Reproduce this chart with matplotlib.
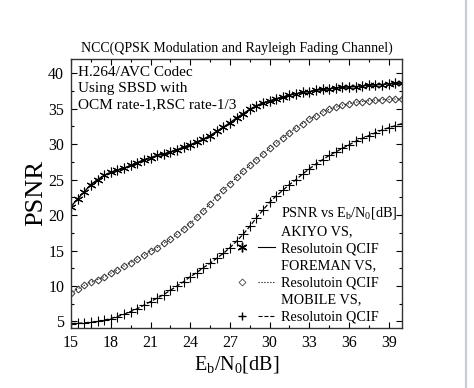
import numpy as np
import matplotlib
matplotlib.use("Agg")
import matplotlib.pyplot as plt
from matplotlib.lines import Line2D
from matplotlib.legend_handler import HandlerTuple
from matplotlib.ticker import MultipleLocator

plt.rcParams['font.family'] = ['Liberation Serif', 'DejaVu Serif']
plt.rcParams['mathtext.fontset'] = 'custom'
plt.rcParams['mathtext.rm'] = 'Liberation Serif'
plt.rcParams['mathtext.it'] = 'Liberation Serif:italic'

# Eb/N0 grid (dB)
ebn0 = [15.0, 15.5, 16.0, 16.5, 17.0, 17.5, 18.0, 18.5, 19.0, 19.5,
        20.0, 20.5, 21.0, 21.5, 22.0, 22.5, 23.0, 23.5, 24.0, 24.5,
        25.0, 25.5, 26.0, 26.5, 27.0, 27.5, 28.0, 28.5, 29.0, 29.5,
        30.0, 30.5, 31.0, 31.5, 32.0, 32.5, 33.0, 33.5, 34.0, 34.5,
        35.0, 35.5, 36.0, 36.5, 37.0, 37.5, 38.0, 38.5, 39.0, 39.5, 40.0]

psnr_akiyo = [21.2, 22.3, 23.3, 24.3, 25.0, 25.6, 26.0, 26.3, 26.6, 27.0,
              27.4, 27.8, 28.1, 28.4, 28.6, 28.9, 29.2, 29.6, 29.9, 30.3,
              30.7, 31.2, 31.8, 32.4, 33.0, 33.7, 34.3, 34.9, 35.4, 35.8,
              36.1, 36.4, 36.6, 36.9, 37.1, 37.3, 37.4, 37.6, 37.7, 37.8,
              37.9, 38.0, 38.05, 38.1, 38.2, 38.3, 38.35, 38.4, 38.5, 38.55, 38.6]

psnr_foreman = [9.0, 9.6, 10.1, 10.5, 10.9, 11.3, 11.8, 12.3, 12.8, 13.3,
                13.8, 14.3, 14.9, 15.4, 16.0, 16.6, 17.3, 18.0, 18.8, 19.7,
                20.6, 21.6, 22.6, 23.5, 24.4, 25.3, 26.2, 27.0, 27.8, 28.6,
                29.4, 30.1, 30.9, 31.6, 32.3, 32.9, 33.5, 34.0, 34.5, 34.9,
                35.2, 35.5, 35.7, 35.9, 36.0, 36.1, 36.2, 36.25, 36.3, 36.35, 36.4]

psnr_mobile = [4.7, 4.75, 4.8, 4.9, 5.0, 5.2, 5.4, 5.7, 6.0, 6.4,
               6.8, 7.3, 7.8, 8.3, 8.8, 9.4, 10.0, 10.6, 11.3, 11.9,
               12.6, 13.2, 13.9, 14.6, 15.4, 16.3, 17.3, 18.4, 19.6, 20.7,
               21.8, 22.7, 23.5, 24.3, 25.0, 25.8, 26.5, 27.2, 27.8, 28.4,
               28.9, 29.4, 29.9, 30.4, 30.8, 31.2, 31.6, 32.0, 32.3, 32.6, 32.9]

x_ticks = [15, 18, 21, 24, 27, 30, 33, 36, 39]
y_ticks = [5, 10, 15, 20, 25, 30, 35, 40]

fig = plt.figure(figsize=(4.74, 3.88), dpi=100)
ax = fig.add_axes([0.150, 0.155, 0.698, 0.693])

asterisk = (6, 2, 0)
ax.plot(ebn0, psnr_akiyo, color='black', linestyle='-', linewidth=1.0,
        marker=asterisk, markersize=7, markeredgewidth=0.8)
ax.plot(ebn0, psnr_foreman, color='black', linestyle=':', linewidth=0.8,
        marker='D', markersize=3.5, markerfacecolor='none', markeredgewidth=0.7,
        markeredgecolor='#333333')
ax.plot(ebn0, psnr_mobile, color='black', linestyle='--', linewidth=0.9,
        marker='+', markersize=7, markeredgewidth=0.8)

ax.set_xlim(15, 40)
ax.set_ylim(4.1, 42)
ax.set_xticks(x_ticks)
ax.set_yticks(y_ticks)
ax.xaxis.set_minor_locator(MultipleLocator(1.5))
ax.yaxis.set_minor_locator(MultipleLocator(2.5))
ax.tick_params(which='both', direction='in', top=True, right=True,
               labelsize=11.5, width=0.8)
ax.tick_params(which='major', length=4, pad=5)
ax.tick_params(which='minor', length=2)
for s in ax.spines.values():
    s.set_linewidth(1.0)
    s.set_color('#333333')

ax.set_title('NCC(QPSK Modulation and Rayleigh Fading Channel)', fontsize=10, pad=5)
ax.set_xlabel(r'E$_\mathrm{b}$/N$_\mathrm{0}$[dB]', fontsize=14.5, labelpad=2)
ax.set_ylabel('PSNR', fontsize=19, labelpad=1)

ax.text(0.022, 0.975, 'H.264/AVC Codec\nUsing SBSD with\nOCM rate-1,RSC rate-1/3',
        transform=ax.transAxes, ha='left', va='top', fontsize=11, linespacing=1.3)

blank = Line2D([], [], linestyle='none', marker=None)
h_akiyo = (Line2D([], [], linestyle='none', marker=asterisk, color='black', markersize=7),
           Line2D([], [], linestyle='-', color='black', linewidth=0.8))
h_foreman = (Line2D([], [], linestyle='none', marker='D', markerfacecolor='none',
                    markeredgecolor='#444444', markersize=3.5, markeredgewidth=0.6),
             Line2D([], [], linestyle=':', color='black', linewidth=0.8))
h_mobile = (Line2D([], [], linestyle='none', marker='+', color='black', markersize=6),
            Line2D([], [], linestyle='--', color='black', linewidth=0.8))

handles = [blank, blank, h_akiyo, blank, h_foreman, blank, h_mobile]
labels = [r'PSNR vs E$_\mathrm{b}$/N$_\mathrm{0}$[dB]', 'AKIYO VS,', 'Resolutoin QCIF',
          'FOREMAN VS,', 'Resolutoin QCIF', 'MOBILE VS,', 'Resolutoin QCIF']
ax.legend(handles, labels, loc='lower right', frameon=False, fontsize=10.3,
          handler_map={tuple: HandlerTuple(ndivide=None, pad=0.5)},
          handlelength=3.0, handletextpad=0.4, labelspacing=0.28,
          borderaxespad=0.1, borderpad=0.2)

# light vertical border on the right of the screenshot
fig.add_artist(Line2D([0.983, 0.983], [0, 1], transform=fig.transFigure,
                      color='#c8ccd4', linewidth=1.6))

fig.savefig('out.png', dpi=100)
